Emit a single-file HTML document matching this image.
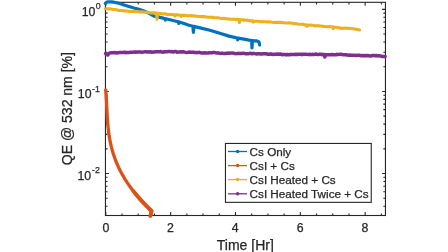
<!DOCTYPE html>
<html><head><meta charset="utf-8"><style>
html,body{margin:0;padding:0;background:#fff;width:448px;height:252px;overflow:hidden}
svg{display:block;filter:blur(0.3px)}
text{fill:#262626;stroke:#262626;stroke-width:0.25px}
</style></head><body>
<svg width="448" height="252" viewBox="0 0 448 252" style="font-family:'Liberation Sans',Arial,Helvetica,sans-serif">
<g>
<rect x="105.45" y="2.3" width="280.00" height="213.20" fill="none" stroke="#262626" stroke-width="1.1"/>
<path d="M105.80 215.5v-3.4M105.80 2.3v3.4M122.01 215.5v-2.1M122.01 2.3v2.1M138.22 215.5v-2.1M138.22 2.3v2.1M154.43 215.5v-2.1M154.43 2.3v2.1M170.64 215.5v-3.4M170.64 2.3v3.4M186.85 215.5v-2.1M186.85 2.3v2.1M203.06 215.5v-2.1M203.06 2.3v2.1M219.27 215.5v-2.1M219.27 2.3v2.1M235.48 215.5v-3.4M235.48 2.3v3.4M251.69 215.5v-2.1M251.69 2.3v2.1M267.90 215.5v-2.1M267.90 2.3v2.1M284.11 215.5v-2.1M284.11 2.3v2.1M300.32 215.5v-3.4M300.32 2.3v3.4M316.53 215.5v-2.1M316.53 2.3v2.1M332.74 215.5v-2.1M332.74 2.3v2.1M348.95 215.5v-2.1M348.95 2.3v2.1M365.16 215.5v-3.4M365.16 2.3v3.4M381.37 215.5v-2.1M381.37 2.3v2.1M105.45 9.35h3.4M385.45 9.35h-3.4M105.45 91.45h3.4M385.45 91.45h-3.4M105.45 66.74h2.1M385.45 66.74h-2.1M105.45 52.28h2.1M385.45 52.28h-2.1M105.45 42.02h2.1M385.45 42.02h-2.1M105.45 34.06h2.1M385.45 34.06h-2.1M105.45 27.56h2.1M385.45 27.56h-2.1M105.45 22.07h2.1M385.45 22.07h-2.1M105.45 17.31h2.1M385.45 17.31h-2.1M105.45 13.11h2.1M385.45 13.11h-2.1M105.45 173.55h3.4M385.45 173.55h-3.4M105.45 148.84h2.1M385.45 148.84h-2.1M105.45 134.38h2.1M385.45 134.38h-2.1M105.45 124.12h2.1M385.45 124.12h-2.1M105.45 116.16h2.1M385.45 116.16h-2.1M105.45 109.66h2.1M385.45 109.66h-2.1M105.45 104.17h2.1M385.45 104.17h-2.1M105.45 99.41h2.1M385.45 99.41h-2.1M105.45 95.21h2.1M385.45 95.21h-2.1M105.45 206.22h2.1M385.45 206.22h-2.1M105.45 198.26h2.1M385.45 198.26h-2.1M105.45 191.76h2.1M385.45 191.76h-2.1M105.45 186.27h2.1M385.45 186.27h-2.1M105.45 181.51h2.1M385.45 181.51h-2.1M105.45 177.31h2.1M385.45 177.31h-2.1" stroke="#262626" stroke-width="1.1" fill="none"/>
</g>
<g>
<polyline points="105.30,3.60 106.50,2.20 108.00,1.80 111.00,1.90 114.00,2.20 119.00,3.30 124.00,4.90 129.00,6.50 134.00,8.00 139.00,9.30 144.00,11.00 147.00,12.20 150.00,13.90 154.00,16.20 159.00,17.10 164.00,18.40 165.00,18.60 165.40,20.00 165.80,18.80 169.00,19.50 174.00,20.70 178.30,21.80 178.70,23.40 179.20,22.00 184.00,23.50 189.00,25.20 192.90,26.20 193.40,32.40 193.90,26.40 199.00,27.60 209.00,30.00 219.00,33.00 229.00,36.10 237.20,38.00 237.70,39.80 238.20,38.20 244.00,39.10 249.00,40.10 251.60,40.50 252.00,47.80 252.40,40.60 254.00,40.90 256.70,40.80 259.00,42.00 259.60,45.00" fill="none" stroke="#0072BD" stroke-width="3.2" stroke-linejoin="round" stroke-linecap="round"/>
<polyline points="105.68,89.80 105.86,91.83 106.03,93.86 106.17,95.89 106.30,97.92 106.42,99.94 106.53,101.97 106.63,104.00 106.73,106.03 106.82,108.06 106.92,110.09 107.02,112.12 107.12,114.15 107.23,116.17 107.36,118.20 107.49,120.23 107.64,122.26 107.81,124.29 108.00,126.32 108.20,128.35 108.43,130.38 108.69,132.41 108.97,134.43 109.28,136.46 109.62,138.49 109.99,140.52 110.40,142.55 110.84,144.58 111.31,146.61 111.83,148.64 112.38,150.66 112.98,152.69 113.62,154.72 114.30,156.75 115.03,158.78 115.80,160.81 116.62,162.84 117.49,164.87 118.40,166.89 119.37,168.92 120.38,170.95 121.45,172.98 122.57,175.01 123.74,177.04 124.97,179.07 126.25,181.10 127.58,183.13 128.97,185.15 130.42,187.18 131.92,189.21 133.47,191.24 135.08,193.27 136.75,195.30 138.48,197.33 140.26,199.36 142.10,201.38 143.99,203.41 145.95,205.44 147.95,207.47 150.02,209.50 151.60,211.00 150.30,215.90" fill="none" stroke="#D95319" stroke-width="3.3" stroke-linejoin="round" stroke-linecap="round"/>
<polyline points="133.47,191.24 135.08,193.27 136.75,195.30 138.48,197.33 140.26,199.36 142.10,201.38 143.99,203.41 145.95,205.44 147.95,207.47 150.02,209.50 151.60,211.00 150.30,215.90" fill="none" stroke="#D95319" stroke-width="3.9" stroke-linejoin="round" stroke-linecap="round"/>
<polyline points="105.30,8.70 107.15,8.69 109.00,8.90 110.67,8.89 112.33,9.39 114.00,9.50 115.67,9.54 117.33,10.12 119.00,10.40 120.67,10.49 122.33,10.47 124.00,10.90 125.67,11.07 127.33,10.96 129.00,11.40 130.67,11.43 132.33,11.28 134.00,11.60 135.67,11.42 137.33,11.69 139.00,11.80 140.67,12.13 142.33,11.84 144.00,12.20 145.67,12.13 147.33,12.48 149.00,12.50 150.67,12.90 152.33,12.81 154.00,12.90 156.60,13.10 157.00,19.30 157.40,13.20 159.00,13.30 160.67,13.44 162.33,13.99 164.00,13.90 165.67,13.83 167.33,14.52 169.00,14.50 170.67,14.47 172.33,14.49 174.00,14.80 175.00,16.00 175.40,14.90 177.20,14.77 179.00,15.10 181.00,15.20 181.30,16.30 181.70,15.30 184.00,15.40 185.67,15.39 187.33,15.79 189.00,15.70 190.67,15.58 192.33,15.88 194.00,15.90 195.67,16.18 197.33,16.22 199.00,16.50 200.67,16.65 202.33,16.47 204.00,16.59 205.67,16.79 207.33,17.19 209.00,17.20 210.67,17.29 212.33,17.36 214.00,17.65 215.67,17.71 217.33,17.75 219.00,18.00 220.67,18.34 222.33,18.45 224.00,18.35 225.67,18.71 227.33,18.85 229.00,19.00 230.67,19.31 232.33,19.30 234.00,19.12 235.67,19.62 237.33,19.19 239.00,19.50 239.40,22.50 239.80,19.60 241.33,19.72 242.87,20.09 244.40,19.89 245.93,20.26 247.47,20.16 249.00,20.60 251.00,20.85 253.00,20.90 253.30,22.00 253.60,21.00 255.40,21.29 257.20,21.31 259.00,21.40 260.67,21.71 262.33,21.45 264.00,21.77 265.67,21.79 267.33,21.86 269.00,21.90 270.67,21.96 272.33,22.27 274.00,22.42 275.67,22.22 277.33,22.42 279.00,22.40 280.67,22.22 282.33,22.69 284.00,22.74 285.67,23.03 287.33,23.01 289.00,22.90 290.67,23.00 292.33,23.30 294.00,23.70 295.67,23.55 297.33,24.04 299.00,24.30 300.52,24.22 302.04,24.31 303.56,24.40 305.08,24.94 306.60,24.90 307.00,26.30 307.40,25.00 309.00,25.20 310.67,25.09 312.33,25.28 314.00,25.48 315.67,25.89 317.33,25.53 319.00,25.90 320.67,25.99 322.33,26.16 324.00,26.48 325.67,26.56 327.33,26.70 329.00,26.60 330.90,26.67 332.80,27.00 333.20,28.60 333.60,27.10 335.40,27.28 337.20,27.48 339.00,27.80 340.67,28.16 342.33,28.34 344.00,28.20 345.67,28.11 347.33,28.24 349.00,28.39 350.67,28.51 352.33,28.77 354.00,28.90 355.87,29.29 357.73,29.42 359.60,29.90" fill="none" stroke="#EDB120" stroke-width="3.1" stroke-linejoin="round" stroke-linecap="round"/>
<polyline points="105.50,53.50 106.50,54.50 107.60,55.00 109.00,53.40 110.50,52.73 112.00,52.75 113.25,52.66 114.50,52.60 115.75,52.70 117.00,52.94 118.25,52.73 119.50,52.57 120.75,52.61 122.00,52.50 123.25,52.59 124.50,52.11 125.75,52.67 127.00,52.55 128.25,52.57 129.50,52.48 130.75,52.16 132.00,52.20 133.25,52.13 134.50,51.92 135.75,52.29 137.00,51.89 138.25,51.90 139.50,52.00 140.75,51.96 142.00,52.20 143.25,52.07 144.50,51.85 145.75,51.79 147.00,51.88 148.25,51.82 149.50,51.98 150.75,51.73 152.00,52.30 153.25,52.10 154.50,52.00 155.75,51.72 157.00,51.77 158.25,51.80 159.50,51.78 160.75,51.59 162.00,52.06 163.25,52.14 164.50,51.74 165.75,51.72 167.00,51.70 168.25,51.43 169.50,51.46 170.75,51.65 172.00,51.62 173.25,52.03 174.50,51.58 175.75,51.51 177.00,52.18 178.25,51.90 179.50,51.90 180.75,51.69 182.00,52.01 183.25,51.69 184.50,52.08 185.75,52.43 187.00,52.39 188.25,52.32 189.50,52.05 190.75,52.17 192.00,52.30 193.25,52.11 194.50,52.57 195.75,52.44 197.00,52.66 198.25,52.38 199.50,52.35 200.75,52.80 202.00,52.96 203.25,52.91 204.50,52.70 205.75,52.94 207.00,52.98 208.25,52.96 209.50,52.63 210.75,52.86 212.00,52.78 213.25,52.58 214.50,52.61 215.75,52.82 217.00,53.00 218.25,52.86 219.50,53.19 220.75,53.41 222.00,53.08 223.25,53.46 224.50,53.52 225.75,53.53 227.00,53.15 228.25,53.07 229.50,53.30 230.75,53.12 232.00,53.11 233.25,53.12 234.50,53.43 235.75,53.63 237.00,53.60 238.25,53.36 239.50,53.49 240.75,53.60 242.00,53.40 243.25,53.13 244.50,53.55 245.75,53.75 247.00,53.68 248.25,53.68 249.50,53.50 250.75,53.31 252.00,53.76 253.25,53.46 254.50,53.60 255.75,53.85 257.00,54.01 258.25,53.65 259.50,53.69 260.75,54.11 262.00,54.00 263.25,53.65 264.50,53.66 265.75,53.72 267.00,54.00 268.25,54.31 269.50,54.27 270.75,53.84 272.00,54.35 273.25,54.49 274.50,54.29 275.75,54.11 277.00,54.27 278.25,54.01 279.50,54.30 280.75,53.99 282.00,54.69 283.25,54.49 284.50,54.44 285.75,54.75 287.00,54.43 288.25,54.77 289.50,54.77 290.75,54.37 292.00,54.60 293.25,54.40 294.50,54.40 295.75,54.33 297.00,54.54 298.25,54.28 299.50,54.36 300.75,54.13 302.00,54.65 303.25,54.23 304.50,54.30 305.75,54.28 307.00,54.38 308.25,54.61 309.50,54.28 310.75,54.64 312.00,54.36 313.25,54.39 314.50,54.40 315.75,54.05 317.00,54.40 318.27,54.39 319.53,54.24 320.80,54.15 322.07,54.74 323.33,54.34 324.60,54.60 324.90,57.00 325.20,54.70 326.63,54.68 328.07,54.86 329.50,54.70 330.75,54.72 332.00,54.54 333.25,54.65 334.50,54.66 335.75,54.80 337.00,54.30 338.25,54.60 339.50,54.36 340.75,54.36 342.00,54.50 343.31,54.78 344.62,54.68 345.94,54.81 347.25,55.03 348.56,55.23 349.88,54.99 351.19,55.19 352.50,55.20 353.75,55.23 355.00,55.27 356.25,55.42 357.50,55.29 358.75,55.37 360.00,55.36 361.25,55.72 362.50,55.58 363.75,55.73 365.00,55.50 366.25,55.85 367.50,55.41 368.75,55.66 370.00,55.97 371.25,55.94 372.50,55.49 373.75,55.52 375.00,55.78 376.25,55.56 377.50,55.90 378.78,55.80 380.07,55.77 381.35,56.27 382.63,56.43 383.92,56.59 385.20,56.40" fill="none" stroke="#7E2F8E" stroke-width="3.5" stroke-linejoin="round" stroke-linecap="round"/>
</g>
<g>
<text x="105.90" y="232" text-anchor="middle" font-size="12.3">0</text>
<text x="170.39" y="232" text-anchor="middle" font-size="12.3">2</text>
<text x="235.23" y="232" text-anchor="middle" font-size="12.3">4</text>
<text x="300.07" y="232" text-anchor="middle" font-size="12.3">6</text>
<text x="364.91" y="232" text-anchor="middle" font-size="12.3">8</text>
<text x="95.40" y="16.20" text-anchor="end" font-size="12.3">10</text>
<text x="100.60" y="9.10" text-anchor="end" font-size="8.8">0</text>
<text x="91.50" y="97.60" text-anchor="end" font-size="12.3">10</text>
<text x="91.9" y="91.74" font-size="8.8">-</text>
<text x="99.90" y="91.80" text-anchor="end" font-size="8.8">1</text>
<text x="91.10" y="179.50" text-anchor="end" font-size="12.3">10</text>
<text x="91.9" y="172.94" font-size="8.8">-</text>
<text x="99.90" y="173.30" text-anchor="end" font-size="8.8">2</text>
<text x="245.3" y="249.6" text-anchor="middle" font-size="14.0">Time [Hr]</text>
<text transform="translate(72.1 108.65) rotate(-90)" text-anchor="middle" font-size="14.0">QE @ 532 nm [%]</text>
</g>
<g>
<rect x="225.45" y="143.45" width="145.8" height="58.9" fill="#fff" stroke="#262626" stroke-width="1.1"/>
<path d="M228.0 151.5H247.0" stroke="#0072BD" stroke-width="1.3"/>
<circle cx="237.6" cy="151.5" r="1.75" fill="#0072BD"/>
<text x="249.6" y="155.69" font-size="11.7">Cs Only</text>
<path d="M228.0 165.6H247.0" stroke="#D95319" stroke-width="1.3"/>
<circle cx="237.6" cy="165.6" r="1.75" fill="#D95319"/>
<text x="249.6" y="169.79" font-size="11.7">CsI + Cs</text>
<path d="M228.0 179.6H247.0" stroke="#EDB120" stroke-width="1.3"/>
<circle cx="237.6" cy="179.6" r="1.75" fill="#EDB120"/>
<text x="249.6" y="183.79" font-size="11.7">CsI Heated + Cs</text>
<path d="M228.0 193.8H247.0" stroke="#7E2F8E" stroke-width="1.3"/>
<circle cx="237.6" cy="193.8" r="1.75" fill="#7E2F8E"/>
<text x="249.6" y="197.99" font-size="11.7">CsI Heated Twice + Cs</text>
</g>
</svg>
</body></html>
